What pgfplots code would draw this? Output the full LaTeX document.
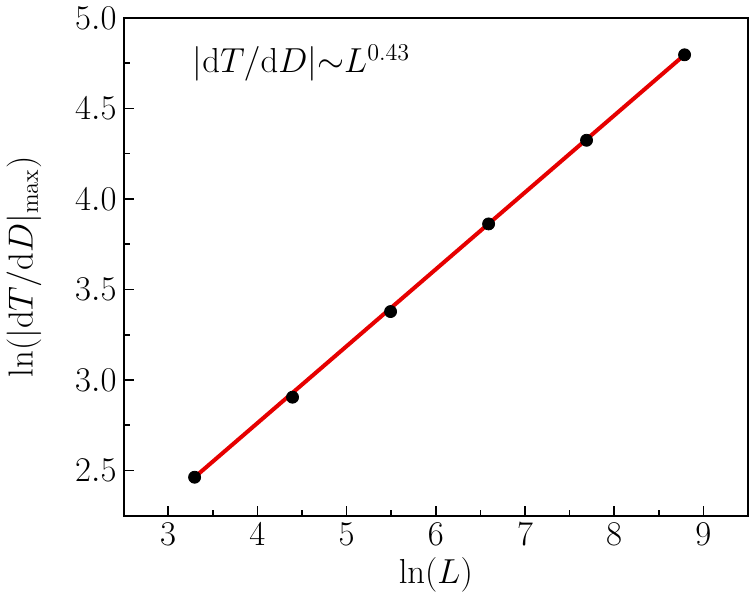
\documentclass[border=0pt]{standalone}
\usepackage{pgfplots}
\pgfplotsset{compat=1.18}
\definecolor{fitred}{RGB}{230,0,0}
\begin{document}
\begin{tikzpicture}
\begin{axis}[
  scale only axis,
  width=311pt, height=248pt,
  xmin=2.5, xmax=9.5, ymin=2.25, ymax=5.0,
  xtick={3,4,5,6,7,8,9},
  ytick={2.5,3.0,3.5,4.0,4.5,5.0},
  minor x tick num=1, minor y tick num=1,
  yticklabel style={/pgf/number format/fixed,/pgf/number format/fixed zerofill,/pgf/number format/precision=1},
  tick align=inside,
  xtick pos=bottom, ytick pos=left,
  major tick length=5pt, minor tick length=3pt,
  axis line style={line width=1pt},
  every tick/.style={black, line width=0.8pt},
  tick label style={font=\fontsize{19}{22}\selectfont},
  label style={font=\fontsize{18}{21}\selectfont},
  xlabel={$\ln(L)$},
  ylabel={$\ln(|\mathrm{d}T/\mathrm{d}D|_{\max})$},
  xlabel style={yshift=1pt},
  ylabel style={yshift=10pt},
  clip=false,
]
\addplot[fitred, line width=2pt] coordinates {(3.296,2.463) (8.789,4.796)};
\addplot[only marks, mark=*, mark size=3pt, black] coordinates {
(3.296,2.463) (4.394,2.905) (5.493,3.378) (6.592,3.862) (7.690,4.324) (8.789,4.796)};
\node[anchor=west, font=\fontsize{18}{21}\selectfont, inner sep=0pt] at (axis cs:3.27,4.75) {$|\mathrm{d}T/\mathrm{d}D|{\sim}L^{0.43}$};
\end{axis}
\end{tikzpicture}
\end{document}
